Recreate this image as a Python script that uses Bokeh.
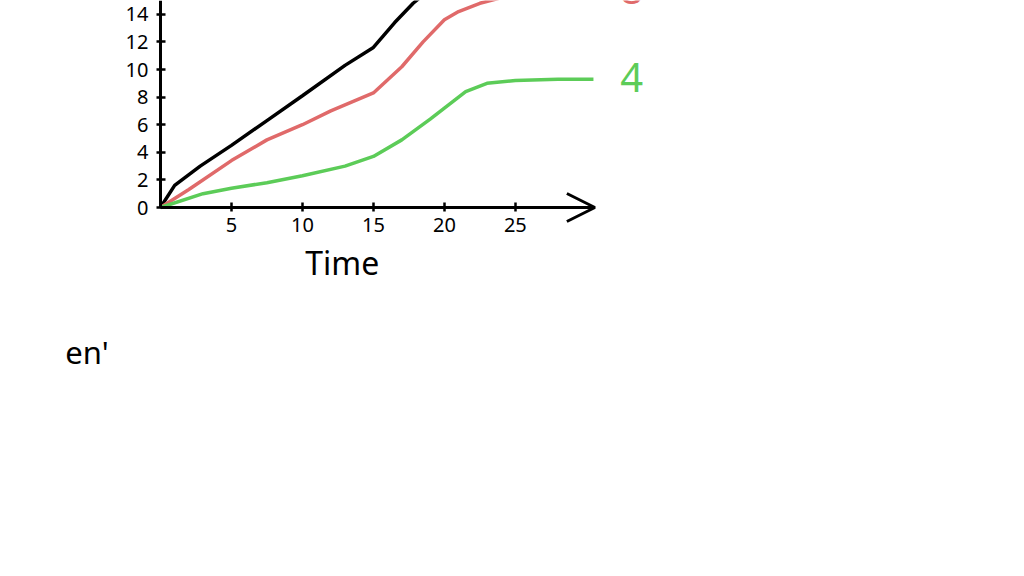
from bokeh.plotting import figure
from bokeh.models import Label, Arrow, OpenHead, FixedTicker, Range1d
from bokeh.embed import file_html
from bokeh.resources import INLINE

# data
time_black = [0, 1, 2.8, 5, 7.5, 10, 13, 15, 16.5, 17.8, 18.5]
val_black = [0, 1.6, 3.0, 4.5, 6.3, 8.1, 10.3, 11.6, 13.4, 14.8, 15.4]

time_red = [0, 2, 5, 7.5, 10, 12, 15, 17, 18.5, 20, 21, 22.5, 24]
val_red = [0, 1.3, 3.4, 4.9, 6.0, 7.0, 8.3, 10.2, 12.0, 13.6, 14.2, 14.8, 15.2]

time_green = [0, 3, 5, 7.5, 10, 13, 15, 17, 19, 20, 21.5, 23, 25, 28, 30.5]
val_green = [0, 1.0, 1.4, 1.8, 2.3, 3.0, 3.7, 4.9, 6.4, 7.2, 8.4, 9.0, 9.2, 9.3, 9.3]

x_ticks = [5, 10, 15, 20, 25]
y_ticks = [0, 2, 4, 6, 8, 10, 12, 14]

FONT = "Noto Sans"

p = figure(frame_width=976, frame_height=520,
           min_border_left=40, min_border_top=0, min_border_right=0,
           min_border_bottom=48,
           x_range=Range1d(-8.45, 60.3), y_range=Range1d(-22.68, 15.0),
           output_backend="svg", toolbar_location=None)
p.outline_line_color = None
p.grid.visible = False
p.background_fill_color = "white"
p.border_fill_color = "white"

for ax in (p.xaxis[0], p.yaxis[0]):
    ax.fixed_location = 0
    ax.axis_line_width = 3
    ax.axis_line_color = "black"
    ax.major_tick_line_width = 2.5
    ax.major_tick_line_color = "black"
    ax.major_tick_in = 5
    ax.major_tick_out = 4
    ax.minor_tick_line_color = None
    ax.major_label_text_font = FONT
    ax.major_label_text_font_size = "20px"
    ax.major_label_text_color = "black"

p.xaxis[0].bounds = (0, 30.6)
p.yaxis[0].bounds = (0, 15.0)
p.xaxis[0].ticker = FixedTicker(ticks=x_ticks)
p.yaxis[0].ticker = FixedTicker(ticks=y_ticks)
p.xaxis[0].major_label_standoff = 6
p.yaxis[0].major_label_standoff = 8

p.line(time_black, val_black, line_color="black", line_width=3.5)
p.line(time_red, val_red, line_color="#e06a6a", line_width=3.5)
p.line(time_green, val_green, line_color="#5ccc58", line_width=3.5)

p.add_layout(Arrow(end=OpenHead(size=28, line_width=3, line_color="black"),
                   x_start=27, y_start=0, x_end=30.6, y_end=0,
                   line_width=3, line_color="black"))

p.add_layout(Label(x=12.8, y=-4.0, text="Time", text_font=FONT,
                   text_font_size="32px", text_color="black",
                   text_align="center", text_baseline="middle"))
p.add_layout(Label(x=33.2, y=9.4, text="4", text_font=FONT,
                   text_font_size="40px", text_color="#5ccc58",
                   text_align="center", text_baseline="middle"))
p.add_layout(Label(x=33.2, y=15.8, text="8", text_font=FONT,
                   text_font_size="40px", text_color="#e06a6a",
                   text_align="center", text_baseline="middle"))
p.add_layout(Label(x=-6.7, y=-10.5, text="en'", text_font=FONT,
                   text_font_size="31px", text_color="black",
                   text_align="left", text_baseline="middle"))

open("out.html", "w").write(file_html(p, INLINE))
